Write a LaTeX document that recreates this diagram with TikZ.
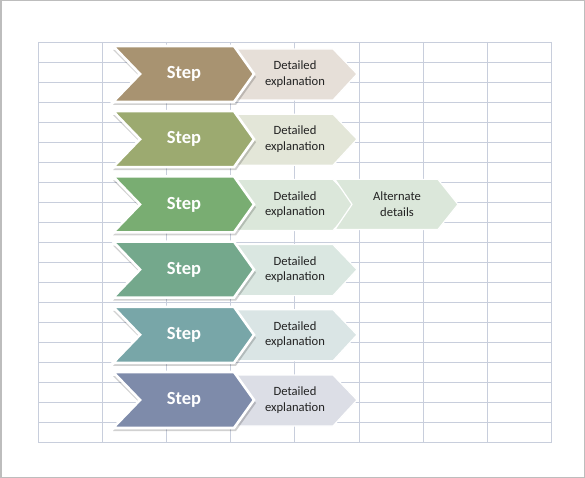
\documentclass[tikz,border=0pt]{standalone}
\usepackage{fontspec}
\setmainfont{Carlito}
\definecolor{gridc}{HTML}{C8CEDC}
\definecolor{framec}{HTML}{BDBDBD}
\definecolor{sA}{HTML}{A89371}
\definecolor{sB}{HTML}{9CAA70}
\definecolor{sC}{HTML}{79AD72}
\definecolor{sD}{HTML}{74A88C}
\definecolor{sE}{HTML}{78A6A8}
\definecolor{sF}{HTML}{7E8BAA}
\definecolor{dA}{HTML}{E6DFD8}
\definecolor{dB}{HTML}{E3E6D8}
\definecolor{dC}{HTML}{DBE7DA}
\definecolor{dD}{HTML}{DAE7E1}
\definecolor{dE}{HTML}{DAE5E5}
\definecolor{dF}{HTML}{DCDEE6}
\definecolor{txt}{HTML}{222222}
\begin{document}
\begin{tikzpicture}[x=1pt,y=-1pt,
  steptext/.style={text=white,font=\fontsize{18.5}{21}\selectfont\bfseries,inner sep=0pt},
  detailtext/.style={text=txt,font=\fontsize{12.6}{15.5}\selectfont,align=center,inner sep=0pt},
  stepshape/.style={draw=white,line width=2.6pt,line join=miter},
  detailshape/.style={draw=white,line width=1.2pt,line join=miter},
  shadowshape/.style={fill=black,opacity=0.18}]
\useasboundingbox (0,0) rectangle (585,478);
% frame
\draw[framec,line width=1.5pt] (0.75,0.75) rectangle (584.25,477.25);
% grid
\foreach \k in {0,...,8} \draw[gridc,line width=0.8pt] ({38+64.2*\k},42) -- ({38+64.2*\k},442);
\foreach \j in {0,...,20} \draw[gridc,line width=0.8pt] (38,{42+20*\j}) -- (551.6,{42+20*\j});
% rows
\foreach \i/\c/\sc/\dc in {1/74/sA/dA,2/139.2/sB/dB,3/204.4/sC/dC,4/269.6/sD/dD,5/334.8/sE/dE,6/400/sF/dF}{
  % detail arrow
  \path[detailshape,fill=\dc] (222,\c-25) -- (333,\c-25) -- (357,\c) -- (333,\c+26) -- (222,\c+26) -- cycle;
  \node[detailtext] (d\i) at (295,\c) {Detailed\\explanation};
  \ifnum\i=3
    \path[detailshape,fill=dC] (335,\c-25) -- (438,\c-25) -- (458,\c) -- (438,\c+25) -- (335,\c+25) -- (352,\c) -- cycle;
    \node[detailtext] (alt) at (397,\c) {Alternate\\details};
  \fi
  % shadow
  \path[shadowshape] (113,\c-24) -- (236,\c-24) -- (256,\c+3) -- (236,\c+31) -- (113,\c+31) -- (140,\c+3) -- cycle;
  % step chevron
  \path[stepshape,fill=\sc] (113,\c-28) -- (234,\c-28) -- (254,\c) -- (234,\c+28) -- (113,\c+28) -- (140,\c) -- cycle;
  \node[steptext] (s\i) at (184,\c) {Step};
}
\end{tikzpicture}
\end{document}
